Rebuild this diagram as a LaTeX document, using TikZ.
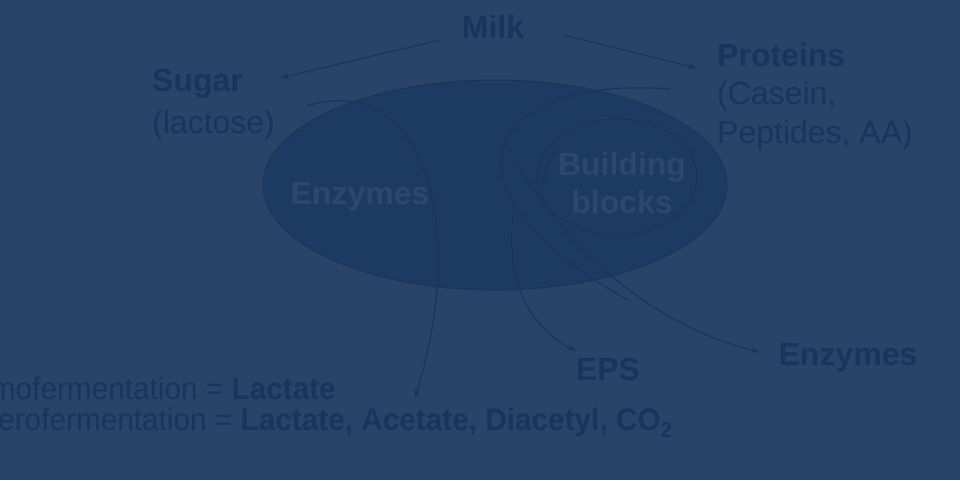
\documentclass[tikz,border=0pt]{standalone}
\usepackage{fontspec}
\setmainfont{Liberation Sans}
\usetikzlibrary{shapes.geometric,arrows.meta}
\definecolor{bg}{HTML}{284469}
\definecolor{ell}{HTML}{1D3A62}
\definecolor{ink}{HTML}{1A345C}
\definecolor{lite}{HTML}{2C4872}
\begin{document}
\begin{tikzpicture}[x=1pt,y=-1pt,
  lab/.style={text=ink,font=\fontsize{32}{34}\selectfont,inner sep=0pt,align=left},
  blab/.style={lab,font=\fontsize{32}{34}\selectfont\bfseries},
  inl/.style={text=lite,font=\fontsize{32}{38}\selectfont\bfseries,inner sep=0pt,align=center},
  bot/.style={text=ink,font=\fontsize{31}{32}\selectfont,inner sep=0pt,xscale=0.96,anchor=east},
  con/.style={draw=ink,line width=1.2pt,-{Stealth[length=9pt,width=6pt]}},
  cur/.style={draw=ink,line width=1.2pt}]
\useasboundingbox[fill=bg] (0,0) rectangle (960,480);
\node[draw=ink,line width=1pt,fill=ell,ellipse,minimum width=464,minimum height=210,inner sep=0] (big) at (495,185) {};
\node[draw=ink,line width=1pt,ellipse,minimum width=160,minimum height=116,inner sep=0] (small) at (617,177) {};
\node[inl] (bb) at (622,183) {Building\\blocks};
\node[inl] (enz) at (360,197) {Enzymes};
\node[blab] (milk) at (493,27) {Milk};
\node[blab,anchor=west] (sugar) at (152,84) {Sugar};
\node[lab,anchor=west] (lact) at (152,125) {(lactose)};
\node[blab,anchor=west] (prot) at (717,55) {Proteins};
\node[lab,anchor=west] (cas) at (717,96) {(Casein,};
\node[lab,anchor=west] (pep) at (717,135) {Peptides, AA)};
\node[blab] (eps) at (608,369) {EPS};
\node[blab] (enz2) at (848,358) {Enzymes};
\node[bot] (homo) at (336,388) {Homofermentation = \textbf{Lactate}};
\node[bot] (het) at (673,423) {Heterofermentation = \textbf{Lactate, Acetate, Diacetyl, CO\textsubscript{2}}};
\coordinate (m1) at (440,40); \coordinate (m1e) at (280,78);
\coordinate (m2) at (563,35); \coordinate (m2e) at (697,68);
\draw[con] (m1) -- (m1e);
\draw[con] (m2) -- (m2e);
\coordinate (s0) at (307,106); \coordinate (s1) at (415,398);
\draw[con] (s0) .. controls (420,70) and (470,220) .. (s1);
\coordinate (p0) at (670,89); \coordinate (p1) at (628,300);
\draw[cur] (p0) .. controls (480,75) and (430,190) .. (p1);
\coordinate (q0) at (560,147); \coordinate (q1) at (543,186);
\draw[con] (q0) .. controls (548,160) and (544,170) .. (q1);
\coordinate (e0) at (515,160); \coordinate (e1) at (760,352);
\draw[con] (e0) .. controls (580,270) and (670,330) .. (e1);
\coordinate (f0) at (513,215); \coordinate (f1) at (576,351);
\draw[con] (f0) .. controls (505,290) and (535,330) .. (f1);
\end{tikzpicture}
\end{document}
